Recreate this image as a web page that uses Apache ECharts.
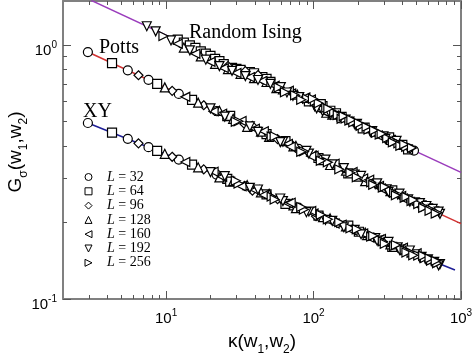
<!DOCTYPE html>
<html>
<head>
<meta charset="utf-8">
<script src="https://cdn.jsdelivr.net/npm/echarts@6.0.0/dist/echarts.min.js"></script>
<style>
html,body{margin:0;padding:0;background:#fff;}
#chart{width:474px;height:354px;}
</style>
</head>
<body>
<div id="chart"></div>
<script>
// lattice sizes and their markers
const sizes = ['32', '64', '96', '128', '160', '192', '256'];
const symbols = ['circle', 'rect', 'diamond', 'triangle',
    'path://M0,5L10,0L10,10Z', 'path://M0,0L10,0L5,10Z', 'path://M0,0L10,5L0,10Z'];

// XY and Potts share the kappa values (L index per point in lXP)
const kXP = [2.95, 4.3, 5.5, 6.5, 7.6, 8.7, 9.8, 11, 12.2, 13.5, 15, 16.5, 18, 20, 22, 24, 26, 28.5, 31, 34,
    37, 40, 44, 48, 52, 57, 62, 67, 73, 79, 86, 93, 100, 108, 116, 125, 134, 144, 155, 166,
    178, 190, 203, 217, 231, 246, 262, 278, 295, 313, 332, 352, 372, 393, 415, 438, 462, 487, 513, 540,
    568, 597, 627, 658, 690, 720,
    21, 23, 25, 27.2, 29.7, 32.5, 35.5, 38.5, 42, 46, 50, 54.5, 59.5, 64.5, 70, 76, 82.5, 89.5, 96.5, 104,
    112, 120.5, 129.5, 139, 149.5, 160.5, 172, 184, 196.5, 210, 224, 238.5, 254, 270, 286.5, 304, 322.5, 342, 362, 382.5,
    404, 426.5, 450, 474.5, 500, 526.5, 554, 582.5, 612, 642.5, 674, 705];
const lXP = [0, 1, 0, 2, 0, 1, 3, 2, 0, 4, 1, 3, 2, 5, 0, 4, 1, 3, 6, 2,
    5, 4, 3, 1, 6, 2, 5, 4, 3, 0, 6, 5, 4, 1, 3, 6, 5, 2, 4, 3,
    6, 5, 1, 4, 3, 6, 5, 4, 6, 5, 3, 6, 5, 4, 6, 5, 6, 5, 6, 5,
    6, 5, 6, 5, 6, 5,
    4, 3, 5, 1, 6, 4, 3, 2, 5, 4, 3, 6, 5, 1, 4, 3, 6, 5, 4, 2,
    6, 5, 3, 4, 6, 5, 1, 4, 6, 5, 3, 4, 6, 5, 4, 6, 5, 1, 6, 5,
    4, 6, 5, 6, 4, 5, 6, 5, 6, 5, 6, 5];
const gXY = [0.493, 0.452, 0.427, 0.410, 0.396, 0.383, 0.373, 0.363, 0.354, 0.346, 0.338, 0.330, 0.324, 0.316, 0.309, 0.303, 0.297, 0.291, 0.285, 0.279,
    0.274, 0.2685, 0.263, 0.258, 0.253, 0.247, 0.243, 0.238, 0.2335, 0.229, 0.225, 0.221, 0.217, 0.213, 0.210, 0.206, 0.203, 0.1995, 0.196, 0.193,
    0.190, 0.187, 0.184, 0.181, 0.1785, 0.176, 0.1735, 0.171, 0.1686, 0.1663, 0.1641, 0.1618, 0.1597, 0.1578, 0.1557, 0.1538, 0.1519, 0.1500, 0.1483, 0.1466,
    0.1449, 0.1432, 0.1416, 0.1400, 0.1384, 0.1371,
    0.317, 0.301, 0.3045, 0.2896, 0.2923, 0.2778, 0.2806, 0.2672, 0.2698, 0.2566, 0.2593, 0.2463, 0.2487, 0.2369, 0.2393, 0.2278, 0.2304, 0.2197, 0.2223, 0.2118,
    0.2147, 0.2049, 0.2076, 0.1983, 0.2008, 0.1916, 0.1944, 0.1857, 0.1883, 0.1798, 0.1825, 0.1746, 0.1774, 0.1697, 0.1723, 0.1650, 0.1677, 0.1605, 0.1632, 0.1564,
    0.1591, 0.1524, 0.1552, 0.1487, 0.1514, 0.1453, 0.1480, 0.1419, 0.1445, 0.1387, 0.1413, 0.1357];
const gPotts = [0.938, 0.849, 0.795, 0.760, 0.729, 0.703, 0.681, 0.660, 0.642, 0.625, 0.608, 0.593, 0.579, 0.563, 0.549, 0.536, 0.525, 0.512, 0.501, 0.489,
    0.478, 0.468, 0.456, 0.446, 0.436, 0.426, 0.416, 0.408, 0.399, 0.390, 0.3815, 0.3736, 0.3664, 0.3590, 0.3522, 0.3451, 0.3388, 0.3324, 0.3259, 0.3199,
    0.3141, 0.3086, 0.3033, 0.2980, 0.2929, 0.2881, 0.2833, 0.2788, 0.2744, 0.2701, 0.2659, 0.2617, 0.2578, 0.2542, 0.2505, 0.2469, 0.2433, 0.2399, 0.2367, 0.2335,
    0.2304, 0.2273, 0.2244, 0.2215, 0.2187, 0.2163,
    0.5477, 0.5506, 0.5225, 0.5263, 0.4989, 0.5024, 0.4762, 0.4801, 0.4551, 0.4578, 0.4344, 0.4375, 0.4147, 0.4182, 0.3974, 0.4004, 0.3800, 0.3833, 0.3645, 0.3681,
    0.3503, 0.3539, 0.3369, 0.3406, 0.3243, 0.3277, 0.3122, 0.3161, 0.3014, 0.3052, 0.2911, 0.2949, 0.2814, 0.2853, 0.2725, 0.2764, 0.2640, 0.2678, 0.2559, 0.2598,
    0.2486, 0.2524, 0.2414, 0.2452, 0.2347, 0.2386, 0.2285, 0.2323, 0.2225, 0.2263, 0.2168, 0.2208];

// random Ising
const kRI = [7.4, 8.5, 9.6, 10.8,
    12, 12, 13.2, 13.2, 14.5, 14.5, 15.8, 15.8, 17.2, 17.2, 18.6, 18.6, 20, 20, 21.5, 21.5,
    23, 23, 24.6, 24.6, 26.3, 26.3, 28, 28, 30, 30, 32, 32, 34.5, 34.5, 37, 37, 39.5, 39.5,
    42, 42, 45, 45, 48, 48, 51, 51,
    54.5, 58, 62, 66, 70.5, 75, 80, 85, 90.5, 96,
    102, 102, 108.5, 108.5, 115, 115, 122, 122, 130, 130, 138, 138, 146, 146, 155, 155, 165, 165, 175, 175,
    186, 197, 209, 222, 236, 250, 265, 281, 298, 316, 335, 355, 376, 400, 425, 450, 480,
    56, 60, 64, 68, 72.5, 77.5, 82.5, 88, 93, 99, 105, 112, 118.5, 126, 134, 142, 150.5, 160, 170, 180.5,
    191.5, 203, 215.5, 229, 243, 257.5, 273, 289.5, 307, 325.5, 345, 365.5, 388, 412.5, 437.5, 465];
const gRI = [1.185, 1.132, 1.085, 1.042,
    1.012, 1.050, 0.977, 1.022, 0.953, 0.997, 0.923, 0.974, 0.902, 0.943, 0.875, 0.924, 0.858, 0.906, 0.842, 0.881,
    0.826, 0.864, 0.811, 0.841, 0.804, 0.826, 0.791, 0.812, 0.776, 0.805, 0.770, 0.798, 0.754, 0.789, 0.747, 0.782, 0.740, 0.774,
    0.728, 0.762, 0.721, 0.748, 0.715, 0.735, 0.703, 0.716,
    0.691, 0.680, 0.668, 0.650, 0.645, 0.634, 0.623, 0.619, 0.614, 0.610,
    0.600, 0.573, 0.590, 0.559, 0.575, 0.550, 0.566, 0.541, 0.551, 0.532, 0.543, 0.528, 0.530, 0.520, 0.521, 0.512, 0.513, 0.508, 0.504, 0.500,
    0.496, 0.489, 0.481, 0.473, 0.465, 0.458, 0.451, 0.444, 0.437, 0.430, 0.423, 0.417, 0.410, 0.404, 0.397, 0.391, 0.384,
    0.676, 0.683, 0.652, 0.661, 0.630, 0.638, 0.6085, 0.622, 0.600, 0.614, 0.5634, 0.5848, 0.5452, 0.5610, 0.5323, 0.5385, 0.5159, 0.5246, 0.5008, 0.5076,
    0.4848, 0.4919, 0.4697, 0.4760, 0.4547, 0.4612, 0.4405, 0.4468, 0.4268, 0.4330, 0.4136, 0.4196, 0.4007, 0.4061, 0.3879, 0.3934];
const lRI = [5, 5, 6, 5,
    4, 1, 3, 1, 5, 1, 4, 1, 3, 1, 5, 1, 4, 1, 3, 1,
    5, 1, 4, 1, 3, 2, 5, 1, 4, 1, 3, 1, 5, 2, 4, 1, 3, 1,
    5, 2, 4, 1, 3, 1, 5, 1,
    4, 6, 3, 5, 4, 6, 5, 3, 6, 4,
    6, 5, 6, 4, 1, 5, 6, 3, 1, 5, 6, 4, 6, 5, 1, 6, 6, 5, 6, 4,
    6, 5, 6, 1, 6, 5, 6, 6, 5, 6, 1, 6, 6, 1, 6, 2, 0,
    3, 5, 6, 4, 5, 3, 6, 4, 1, 6, 5, 1, 4, 6, 3, 1, 5, 6, 4, 6,
    5, 6, 1, 6, 5, 6, 4, 6, 5, 1, 6, 5, 6, 6, 1, 6];

// power-law fits (end points)
const fitRIk = [3.1, 1000], fitRIg = [1.499, 0.315];
const fitPottsK = [2.95, 1000], fitPottsG = [0.938, 0.198];
const fitXYk = [2.95, 910], fitXYg = [0.493, 0.130];

// ticks
const xMajor = [10, 100, 1000];
const xMinor = [3, 4, 5, 6, 7, 8, 9, 20, 30, 40, 50, 60, 70, 80, 90, 200, 300, 400, 500, 600, 700, 800, 900];
const yMajor = [0.1, 1];
const yMinor = [0.2, 0.3, 0.4, 0.5, 0.6, 0.7, 0.8, 0.9];

const sans = '"Liberation Sans", Arial, sans-serif';
const serif = '"Liberation Serif", "Times New Roman", serif';

function sup(v) {
    const e = Math.round(Math.log10(v));
    return '{b|10}{s|' + e + '}';
}
const richTick = {
    b: {fontFamily: sans, fontSize: 15, lineHeight: 15, verticalAlign: 'bottom', color: '#000'},
    s: {fontFamily: sans, fontSize: 10, lineHeight: 26, verticalAlign: 'middle', color: '#000'}
};
const richName = {
    n: {fontFamily: sans, fontSize: 19, lineHeight: 24, verticalAlign: 'top', color: '#000'},
    sb: {fontFamily: sans, fontSize: 12, lineHeight: 24, verticalAlign: 'bottom', color: '#000'}
};

function mkAxis(kind, position, ticks, len, main) {
    return {
        type: 'log',
        min: kind === 'x' ? 2 : 0.1,
        max: kind === 'x' ? 1000 : 1.49,
        position: position,
        axisLine: {show: main, onZero: false, lineStyle: {color: '#808080', width: 2}},
        axisTick: {show: true, inside: true, length: len, customValues: ticks, lineStyle: {color: '#555', width: 1}},
        axisLabel: {show: false},
        splitLine: {show: false},
        minorTick: {show: false}
    };
}

const xAxes = [
    mkAxis('x', 'bottom', xMajor, 8, true),
    mkAxis('x', 'bottom', xMinor, 4, false),
    mkAxis('x', 'top', xMajor, 8, true),
    mkAxis('x', 'top', xMinor, 4, false)
];
xAxes[0].axisLabel = {show: true, customValues: xMajor, formatter: sup, margin: 1, rich: richTick};
xAxes[0].name = '{n|\u03ba(w}{sb|1}{n|,w}{sb|2}{n|)}';
xAxes[0].nameLocation = 'middle';
xAxes[0].nameGap = 33;
xAxes[0].nameTextStyle = {rich: richName};

const yAxes = [
    mkAxis('y', 'left', yMajor, 8, true),
    mkAxis('y', 'left', yMinor, 4, false),
    mkAxis('y', 'right', yMajor, 8, true),
    mkAxis('y', 'right', yMinor, 4, false)
];
yAxes[0].axisLabel = {show: true, customValues: yMajor, formatter: sup, margin: 6, align: 'right', rich: richTick};

const series = [];
[[fitRIk, fitRIg, '#9a3cbc'], [fitPottsK, fitPottsG, '#d23232'], [fitXYk, fitXYg, '#1e1e96']].forEach(function (f) {
    series.push({
        type: 'line',
        data: f[0].map((k, j) => [k, f[1][j]]),
        symbol: 'none',
        silent: true,
        lineStyle: {color: f[2], width: 1.5},
        z: 1
    });
});

// white-filled markers with dark outline
const markerStyle = {color: '#fff', borderColor: '#000', borderWidth: 1.2, opacity: 1};

const models = [[kXP, gXY, lXP], [kXP, gPotts, lXP], [kRI, gRI, lRI]];
sizes.forEach(function (s, i) {
    models.forEach(function (m) {
        const pts = [];
        m[0].forEach((k, j) => {
            if (m[2][j] === i) pts.push([k, m[1][j]]);
        });
        series.push({
            type: 'scatter',
            name: 'L = ' + s,
            data: pts,
            symbol: symbols[i],
            symbolSize: 9,
            itemStyle: markerStyle,
            emphasis: {disabled: true},
            z: 2
        });
    });
});

const myChart = echarts.init(document.getElementById('chart'), null, {renderer: 'canvas'});
const option = {
    animation: false,
    backgroundColor: '#fff',
    grid: {left: 63, right: 13, top: 1, bottom: 55, outerBoundsMode: 'none', containLabel: false},
    xAxis: xAxes,
    yAxis: yAxes,
    legend: {
        data: sizes.map(s => 'L = ' + s),
        orient: 'vertical',
        left: 84.5,
        top: 170,
        padding: 0,
        itemWidth: 7,
        itemHeight: 7,
        itemGap: 0.3,
        selectedMode: false,
        itemStyle: {color: '#fff', borderColor: '#000', borderWidth: 1},
        formatter: n => '{g| }{i|L}{t|' + n.slice(1) + '}',
        textStyle: {
            fontFamily: serif, fontSize: 14, lineHeight: 14, color: '#000',
            rich: {
                g: {width: 10, fontSize: 14, lineHeight: 14},
                i: {fontFamily: serif, fontStyle: 'italic', fontSize: 14, lineHeight: 14},
                t: {fontFamily: serif, fontSize: 14, lineHeight: 14}
            }
        }
    },
    graphic: [
        {type: 'text', x: 189, y: 32.4, style: {text: 'Random Ising', font: '20px ' + serif, fill: '#000', verticalAlign: 'middle'}},
        {type: 'text', x: 99, y: 47.5, style: {text: 'Potts', font: '20px ' + serif, fill: '#000', verticalAlign: 'middle'}},
        {type: 'text', x: 83, y: 111.4, style: {text: 'XY', font: '20px ' + serif, fill: '#000', verticalAlign: 'middle'}},
        {
            type: 'text', x: 18, y: 152, rotation: Math.PI / 2,
            style: {
                text: '{n|G}{sb|\u03c3}{n|(w}{sb|1}{n|,w}{sb|2}{n|)}',
                rich: richName, align: 'center', verticalAlign: 'middle'
            }
        }
    ],
    series: series
};
myChart.setOption(option);
</script>
</body>
</html>
